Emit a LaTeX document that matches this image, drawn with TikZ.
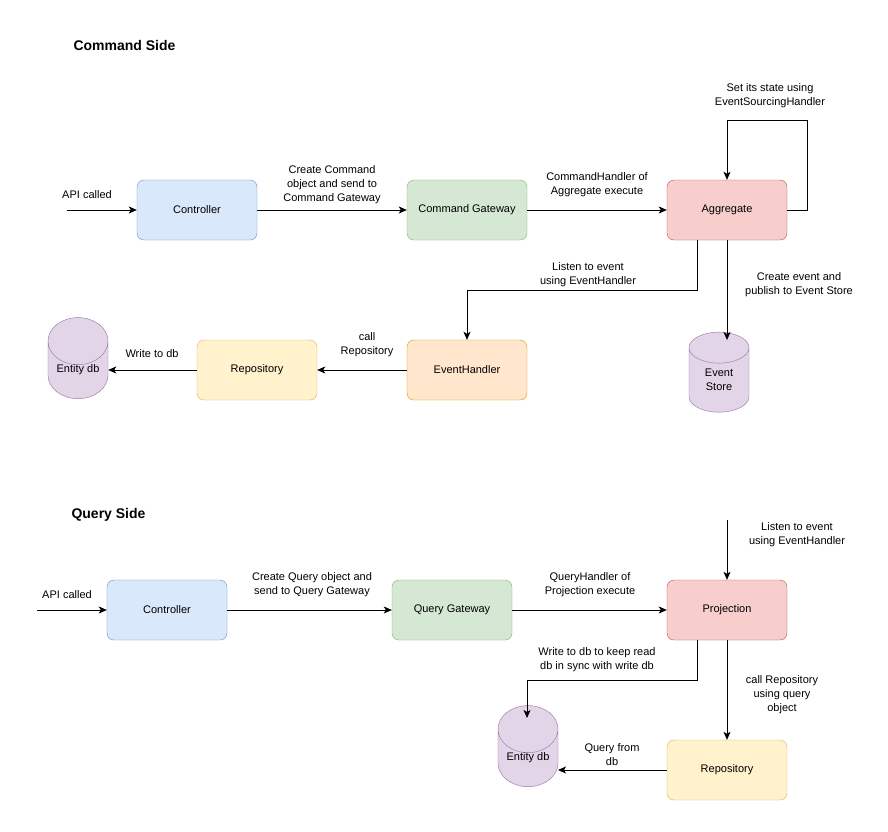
\documentclass[tikz,border=0pt]{standalone}
\usepackage{fontspec}
\setmainfont{Liberation Sans}
\usetikzlibrary{shapes.geometric,arrows.meta}
\definecolor{bF}{HTML}{DAE8FC}\definecolor{bS}{HTML}{6C8EBF}
\definecolor{gF}{HTML}{D5E8D4}\definecolor{gS}{HTML}{82B366}
\definecolor{rF}{HTML}{F8CECC}\definecolor{rS}{HTML}{B85450}
\definecolor{oF}{HTML}{FFE6CC}\definecolor{oS}{HTML}{D79B00}
\definecolor{yF}{HTML}{FFF2CC}\definecolor{yS}{HTML}{D6B656}
\definecolor{pF}{HTML}{E1D5E7}\definecolor{pS}{HTML}{9673A6}
\begin{document}
\begin{tikzpicture}[x=1pt,y=-1pt,font=\fontsize{11}{14}\selectfont,
 box/.style={draw=#1S,fill=#1F,rounded corners=7pt,minimum width=120pt,minimum height=60pt,inner sep=0pt},
 db/.style={cylinder,shape border rotate=90,aspect=1.1,draw=pS,fill=pF,minimum width=60pt,minimum height=80pt,inner sep=0pt,align=center},
 arr/.style={-{Stealth[length=8pt,width=7pt,inset=2pt]},line width=0.8pt},
 lbl/.style={align=center,fill=white,inner sep=1pt},
 ttl/.style={font=\fontsize{14}{17}\selectfont\bfseries,anchor=west}]
\useasboundingbox (0,0) rectangle (888,831);
\fill[white] (0,0) rectangle (888,831);
\node[ttl] (t1) at (70,45) {Command Side};
\node[ttl] (t2) at (68,515) {Query Side};
% command side
\node[box=b] (c1) at (197,210) {Controller};
\node[box=g] (cg) at (467,210) {Command Gateway};
\node[box=r] (ag) at (727,210) {Aggregate};
\node[box=o] (eh) at (467,370) {EventHandler};
\node[box=y] (r1) at (257,370) {Repository};
\node[db] (edb1) at (78,370) {Entity db};
\node[db] (es) at (719,380) {Event\\Store};
\coordinate (a1) at (67,210);
\draw[arr] (a1) -- (c1);
\node[lbl] (l1) at (87,195) {API called};
\draw[arr] (c1) -- (cg);
\node[lbl] (l2) at (332,185) {Create Command\\object and send to\\Command Gateway};
\draw[arr] (cg) -- (ag);
\node[lbl] (l3) at (597,185) {CommandHandler of\\Aggregate execute};
\draw[arr] (ag.east) -- ++(20,0) |- (727,120) -- (ag.north);
\node[lbl] (l4) at (770,96) {Set its state using\\EventSourcingHandler};
\draw[arr] ([xshift=-30pt]ag.south) |- (467,290) -- (eh.north);
\node[lbl] (l5) at (588,275) {Listen to event\\using EventHandler};
\draw[arr] (ag.south) -- (727,340);
\node[lbl] (l6) at (799,285) {Create event and\\publish to Event Store};
\draw[arr] (eh) -- (r1);
\node[lbl] (l7) at (367,345) {call\\Repository};
\draw[arr] (r1) -- (edb1);
\node[lbl] (l8) at (152,354) {Write to db};
% query side
\node[box=b] (c2) at (167,610) {Controller};
\node[box=g] (qg) at (452,610) {Query Gateway};
\node[box=r] (pj) at (727,610) {Projection};
\node[box=y] (r2) at (727,770) {Repository};
\node[db] (edb2) at (528,758) {Entity db};
\coordinate (a2) at (37,610);
\draw[arr] (a2) -- (c2);
\node[lbl] (m1) at (67,595) {API called};
\draw[arr] (c2) -- (qg);
\node[lbl] (m2) at (312,585) {Create Query object and\\send to Query Gateway};
\draw[arr] (qg) -- (pj);
\node[lbl] (m3) at (590,585) {QueryHandler of\\Projection execute};
\coordinate (a3) at (727,520);
\draw[arr] (a3) -- (pj);
\node[lbl] (m4) at (797,535) {Listen to event\\using EventHandler};
\draw[arr] ([xshift=-30pt]pj.south) |- (527,680) -- (527,718);
\node[lbl] (m5) at (597,660) {Write to db to keep read\\db in sync with write db};
\draw[arr] (pj.south) -- (r2.north);
\node[lbl] (m6) at (782,695) {call Repository\\using query\\object};
\draw[arr] (r2.west) -- (558,770);
\node[lbl] (m7) at (612,755) {Query from\\db};
\end{tikzpicture}
\end{document}
